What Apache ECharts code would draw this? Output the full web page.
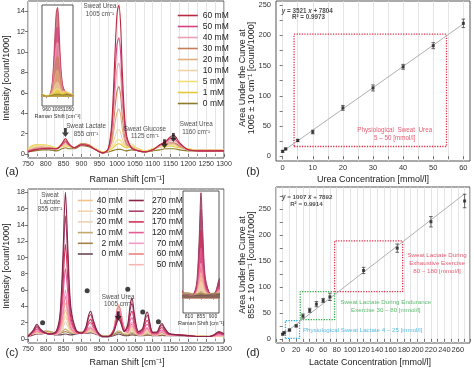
<!DOCTYPE html>
<html><head><meta charset="utf-8">
<script src="https://cdn.jsdelivr.net/npm/echarts@6/dist/echarts.min.js"></script>
<style>html,body{margin:0;padding:0;background:#fff}#c{width:474px;height:370px}</style>
</head><body><div id="c"></div>
<script>
const FONT = 'Liberation Sans';

// ---------- Panel (a): urea spectra ----------
const shiftA = [750,770,790,810,830,845,855,865,880,900,920,940,960,975,985,995,1000,1005,1010,1015,1025,1040,1060,1080,1100,1120,1135,1150,1160,1175,1200,1230,1260,1300];
const urea60 = [0.2,0.4,0.5,0.5,0.5,1.0,1.5,1.0,0.6,0.9,0.8,0.4,0.1, 0.5,3.0,10.5,13.8,14.6,12.6,7.8,2.2, 0.6,0.3,0.2,0.4,0.9,1.2,1.7,1.8,1.1,0.4,0.3,0.3,0.3];
const urea50 = [0.25,0.45,0.5,0.55,0.5,0.9,1.2,0.9,0.6,0.9,0.8,0.4,0.1, 0.45,2.4,8.3,10.8,11.4,9.8,6.1,1.8, 0.6,0.3,0.2,0.4,0.9,1.1,1.5,1.5,1.0,0.4,0.3,0.3,0.3];
const urea40 = [0.3,0.5,0.55,0.55,0.5,0.85,1.1,0.85,0.6,0.9,0.8,0.4,0.1, 0.4,1.9,6.4,8.4,8.9,7.7,4.8,1.4, 0.6,0.3,0.2,0.4,0.8,1.0,1.3,1.3,0.9,0.4,0.3,0.3,0.3];
const urea30 = [0.3,0.5,0.6,0.6,0.5,0.9,1.3,0.9,0.6,1.0,0.9,0.4,0.1, 0.4,1.5,4.8,6.2,6.6,5.7,3.6,1.1, 0.6,0.3,0.2,0.4,0.8,1.0,1.1,1.1,0.8,0.4,0.3,0.3,0.3];
const urea20 = [0.35,0.6,0.7,0.6,0.5,0.8,1.0,0.8,0.6,1.0,0.9,0.4,0.1, 0.35,1.1,3.2,4.1,4.4,3.8,2.4,0.9, 0.7,0.3,0.2,0.4,0.8,0.9,1.0,1.0,0.7,0.4,0.35,0.35,0.35];
const urea10 = [0.4,0.7,0.8,0.7,0.5,0.8,0.9,0.8,0.6,1.0,0.9,0.4,0.1, 0.3,0.7,1.8,2.3,2.4,2.1,1.4,0.8, 1.0,0.4,0.2,0.4,0.7,0.8,0.9,0.9,0.7,0.4,0.4,0.4,0.4];
const urea5  = [0.5,0.8,0.9,0.8,0.6,0.7,0.8,0.7,0.6,1.0,0.9,0.5,0.2, 0.3,0.5,1.1,1.35,1.4,1.3,1.0,0.7, 0.8,0.5,0.3,0.5,0.7,0.8,0.8,0.8,0.7,0.5,0.4,0.4,0.4];
const urea1  = [0.5,0.9,0.9,0.8,0.6,0.7,0.8,0.7,0.6,1.0,0.9,0.5,0.2, 0.3,0.5,0.8,0.95,1.0,0.95,0.8,0.6, 0.7,0.5,0.3,0.5,0.7,0.7,0.8,0.7,0.6,0.5,0.4,0.4,0.4];
const urea0  = [0.2,0.3,0.4,0.4,0.3,0.5,0.6,0.5,0.5,0.8,0.7,0.4,0.1, 0.2,0.3,0.4,0.45,0.45,0.45,0.4,0.3, 0.4,0.3,0.2,0.3,0.4,0.5,0.5,0.5,0.4,0.3,0.3,0.3,0.3];
const ureaNames = ['60 mM','50 mM','40 mM','30 mM','20 mM','10 mM','5 mM','1 mM','0 mM'];
const ureaSpectra = [urea60,urea50,urea40,urea30,urea20,urea10,urea5,urea1,urea0];
const ureaColors = ['#b8283f','#d2437f','#eb9fb2','#c67e58','#e2af7c','#efd3a6','#f2df74','#e6c936','#8c7b2c'];

// ---------- Panel (b): urea calibration ----------
const ureaConc = [0,1,5,10,20,30,40,50,60];
const ureaArea = [8,12,26,40,80,113,148,183,220];
const ureaErr  = [1.5,1.5,2,3,4,5,4,5,7];
const ureaFitX = [0,60];
const ureaFitY = [7.8,219.1];
const ureaBoxX = [3.8,54.4];
const ureaBoxY = [16,202];

// ---------- Panel (c): lactate spectra ----------
const shiftC = [750,765,775,785,800,815,830,840,848,855,862,870,885,900,912,920,926,932,945,960,975,990,1000,1005,1010,1020,1030,1037,1042,1048,1060,1072,1080,1085,1090,1100,1112,1120,1126,1132,1145,1170,1200,1230,1260,1275,1285,1300];
const lact270 = [0.3,1.1,1.8,1.2,0.7,0.6,1.0,3.1,10.1,18.0,11.0,4.0,1.1,0.7,1.4,2.9,3.4,2.5,0.9,0.3,0.3,0.8,2.1,2.4,2.0,0.9,1.8,4.3,5.0,3.2,0.9,1.3,2.9,3.3,2.4,0.8,0.85,1.6,1.9,1.45,0.7,0.5,0.4,0.3,0.3,0.6,0.9,0.65];
const lact220 = [0.3,1.0,1.6,1.1,0.7,0.6,0.9,2.7,8.6,15.1,9.3,3.4,1.0,0.7,1.3,2.6,3.0,2.2,0.8,0.3,0.3,0.9,2.3,2.7,2.2,0.9,1.6,3.7,4.3,2.8,0.8,1.2,2.5,2.9,2.1,0.8,0.8,1.4,1.7,1.3,0.65,0.5,0.4,0.3,0.3,0.55,0.8,0.6];
const lact170 = [0.3,0.9,1.4,1.0,0.7,0.6,0.8,2.2,6.6,11.6,7.1,2.7,0.9,0.7,1.1,2.1,2.4,1.8,0.8,0.3,0.3,1.0,2.6,3.0,2.5,1.0,1.3,2.9,3.4,2.2,0.7,1.0,2.0,2.3,1.7,0.7,0.7,1.2,1.4,1.1,0.6,0.5,0.4,0.3,0.3,0.5,0.7,0.5];
const lact120 = [0.3,0.85,1.2,0.9,0.7,0.6,0.75,1.7,5.0,8.6,5.4,2.1,0.85,0.7,1.0,1.8,2.0,1.5,0.7,0.3,0.3,1.0,2.9,3.4,2.8,1.1,1.0,2.3,2.6,1.7,0.6,0.8,1.6,1.8,1.4,0.6,0.6,1.0,1.1,0.9,0.55,0.5,0.4,0.3,0.3,0.45,0.6,0.45];
const lact70  = [0.3,0.75,1.0,0.8,0.7,0.6,0.65,1.3,3.5,6.0,3.8,1.6,0.75,0.7,0.9,1.4,1.5,1.2,0.6,0.3,0.3,1.1,3.3,3.8,3.1,1.2,0.9,1.8,2.0,1.4,0.55,0.7,1.25,1.4,1.1,0.55,0.55,0.8,0.9,0.75,0.5,0.5,0.4,0.3,0.3,0.4,0.5,0.4];
const lact60  = [0.3,0.7,0.95,0.75,0.7,0.6,0.65,1.2,3.1,5.2,3.3,1.4,0.7,0.7,0.85,1.25,1.35,1.1,0.6,0.3,0.3,1.1,3.5,4.0,3.3,1.3,0.8,1.6,1.8,1.3,0.5,0.65,1.15,1.3,1.0,0.5,0.5,0.75,0.85,0.7,0.5,0.5,0.4,0.3,0.3,0.4,0.45,0.4];
const lact50  = [0.3,0.7,0.9,0.75,0.7,0.6,0.6,1.1,2.6,4.4,2.8,1.3,0.7,0.7,0.8,1.1,1.2,1.0,0.6,0.3,0.3,1.1,3.6,4.1,3.4,1.3,0.75,1.4,1.6,1.1,0.5,0.6,1.05,1.15,0.9,0.5,0.5,0.7,0.8,0.65,0.45,0.5,0.4,0.3,0.3,0.35,0.4,0.35];
const lact40  = [0.4,0.7,0.8,0.75,0.8,0.7,0.6,1.0,2.2,3.6,2.3,1.1,0.7,0.8,0.8,1.0,1.1,0.9,0.6,0.3,0.3,1.2,3.7,4.2,3.5,1.4,0.7,1.2,1.4,1.0,0.5,0.6,0.9,1.0,0.85,0.5,0.5,0.65,0.75,0.6,0.45,0.5,0.4,0.35,0.3,0.35,0.35,0.3];
const lact30  = [0.4,0.65,0.75,0.7,0.8,0.7,0.6,0.9,1.8,2.8,1.9,1.0,0.7,0.8,0.8,0.95,1.0,0.85,0.6,0.3,0.3,1.1,3.5,4.0,3.3,1.3,0.65,1.05,1.2,0.9,0.5,0.55,0.8,0.9,0.75,0.5,0.5,0.6,0.7,0.6,0.45,0.5,0.4,0.35,0.3,0.3,0.35,0.3];
const lact20  = [0.4,0.6,0.7,0.7,0.8,0.7,0.6,0.8,1.4,2.1,1.5,0.9,0.7,0.8,0.8,0.9,0.95,0.8,0.6,0.3,0.3,1.0,3.2,3.7,3.0,1.2,0.6,0.95,1.05,0.8,0.5,0.5,0.7,0.8,0.7,0.5,0.5,0.55,0.65,0.55,0.45,0.5,0.4,0.35,0.3,0.3,0.3,0.3];
const lact10  = [0.5,0.8,0.9,0.9,1.0,0.9,0.7,0.8,1.0,1.2,1.0,0.8,0.8,0.9,0.9,0.95,1.0,0.9,0.7,0.4,0.4,0.6,0.9,1.0,0.9,0.6,0.6,0.8,0.85,0.7,0.5,0.5,0.6,0.65,0.6,0.5,0.5,0.55,0.6,0.55,0.5,0.5,0.45,0.4,0.35,0.35,0.35,0.3];
const lact2   = [0.4,0.7,0.8,0.8,0.9,0.8,0.6,0.7,0.8,0.9,0.8,0.7,0.7,0.8,0.8,0.85,0.9,0.8,0.6,0.3,0.3,0.5,0.75,0.8,0.75,0.5,0.5,0.6,0.65,0.6,0.45,0.45,0.5,0.55,0.5,0.45,0.45,0.5,0.5,0.5,0.45,0.45,0.4,0.35,0.3,0.3,0.3,0.3];
const lact0   = [0.3,0.5,0.6,0.6,0.7,0.6,0.5,0.5,0.55,0.6,0.55,0.5,0.6,0.7,0.7,0.7,0.75,0.7,0.5,0.25,0.25,0.4,0.55,0.6,0.55,0.4,0.4,0.45,0.5,0.45,0.4,0.4,0.45,0.45,0.45,0.4,0.4,0.4,0.45,0.4,0.4,0.4,0.35,0.3,0.3,0.3,0.3,0.3];
const lactNames = ['270 mM','220 mM','170 mM','120 mM','70 mM','60 mM','50 mM','40 mM','30 mM','20 mM','10 mM','2 mM','0 mM'];
const lactSpectra = [lact270,lact220,lact170,lact120,lact70,lact60,lact50,lact40,lact30,lact20,lact10,lact2,lact0];
const lactColors = ['#8a2446','#a8446e','#d2305a','#e65c98','#f39ac4','#f07f80','#f6b6b4','#f2c48c','#f5d6aa','#e8d2b8','#c2a86c','#a3814c','#6c4652'];

// ---------- Panel (d): lactate calibration ----------
const lactConc = [0,2,10,20,30,40,50,60,70,120,170,220,270];
const lactArea = [9,12,17,25,44,55,67,74,81,132,175,226,266];
const lactErr  = [1.5,1.5,2,2,4,4,5,4,7,6,8,10,13];
const lactFitX = [0,270];
const lactFitY = [7.9,279.8];
const boxPhysX = [4,25],    boxPhysY = [1,35];
const boxEndX  = [26,77],   boxEndY  = [37,91];
const boxExhX  = [77,178],  boxExhY  = [91,189];

// ---------- tick labels ----------
const ticksAY = [0,2,4,6,8,10,12,14];
const ticksBX = [0,10,20,30,40,50,60];
const ticksBXt = [0,5,10,15,20,25,30,35,40,45,50,55,60];
const ticksBY = [0,50,100,150,200,250];
const ticksBYt = [0,25,50,75,100,125,150,175,200,225,250];
const ticksCY = [0,2,4,6,8,10,12,14,16,18];
const ticksDY = [0,50,100,150,200,250];
const ticksDYt = [0,25,50,75,100,125,150,175,200,225,250,275];
const insetTicksA = [960,1005,1050];
const insetTicksC = [810,855,900];

// ---------- annotations ----------
const annA = [
  {x:952, y:14.1, t:'Sweat Urea\n1005 cm⁻¹'},
  {x:913, y:2.3, t:'Sweat Lactate\n855 cm⁻¹'},
  {x:1078, y:2.1, t:'Sweat Glucose\n1125 cm⁻¹'},
  {x:1222, y:2.5, t:'Sweat Urea\n1160 cm⁻¹'}
];
const arrowsA = [[855,2.1],[1133,1.0],[1158,1.6]];
const annC = [
  {x:812, y:16.8, t:'Sweat\nLactate\n855 cm⁻¹'},
  {x:1003, y:4.7, t:'Sweat Urea\n1005 cm⁻¹'}
];
const arrowsC = [[1003,2.8]];
const dotsC = [[791,2.0],[916,5.9],[1030,6.1],[1072,3.3],[1116,2.1]];
const annB = [
  {x:-0.3, y:240.5, t:'{i|y} = 3521 {i|x} + 7804', a:'left', b:true},
  {x:3.1, y:229.5, t:'R² = 0.9973', a:'left', b:true},
  {x:37.2, y:37, t:'Physiological  Sweat  Urea\n5 – 50 [mmol/l]', c:'#e2324e'}
];
const annD = [
  {x:-1, y:274, t:'{i|y} = 1007 {i|x} + 7892', a:'left', b:true},
  {x:11, y:259.5, t:'R² = 0.9914', a:'left', b:true},
  {x:30, y:16, t:'Physiological Sweat Lactate 4 – 25 [mmol/l]', a:'left', c:'#2aa9e2'},
  {x:153, y:62.6, t:'Sweat Lactate During Endurance\nExercise 30 – 80 [mmol/l]', c:'#34ad4c'},
  {x:229, y:145, t:'Sweat Lactate During\nExhaustive Exercise\n80 – 180 [mmol/l]', c:'#e2324e'}
];

// ---------- build ----------
const zip = (xs, ys) => xs.map((x, i) => [x, ys[i]]);
const boxPts = (bx, by) => [[bx[0],by[0]],[bx[1],by[0]],[bx[1],by[1]],[bx[0],by[1]],[bx[0],by[0]]];
const TXT = '#222';
const RICH = {i:{fontStyle:'italic', fontWeight:'bold', fontSize:6.3, fontFamily:FONT, color:TXT}};

function textLayer(xi, items, size, lh) {
  return {type:'scatter', xAxisIndex:xi, yAxisIndex:xi, symbolSize:1, silent:true, z:12,
    itemStyle:{color:'rgba(0,0,0,0)'},
    data: items.map(o => ({value:[o.x, o.y], label:{show:true, position:'inside', formatter:o.t,
      align:o.a || 'center', verticalAlign:'middle', color:o.c || TXT, fontSize:size, lineHeight:lh,
      fontFamily:FONT, fontWeight:o.b ? 'bold' : 'normal', rich:RICH}}))};
}
function errRender(params, api) {
  const x = api.value(0), y = api.value(1), e = api.value(2);
  const t = api.coord([x, y + e]), b = api.coord([x, y - e]);
  const w = 1.8, st = {stroke:'#444', lineWidth:0.8};
  return {type:'group', children:[
    {type:'line', shape:{x1:t[0], y1:t[1], x2:b[0], y2:b[1]}, style:st},
    {type:'line', shape:{x1:t[0]-w, y1:t[1], x2:t[0]+w, y2:t[1]}, style:st},
    {type:'line', shape:{x1:b[0]-w, y1:b[1], x2:b[0]+w, y2:b[1]}, style:st}]};
}
const ARROW = 'path://M3,0L7,0L7,5L10,5L5,10L0,5L3,5Z';

const series = [];
for (let i = ureaNames.length - 1; i >= 0; i--) {
  series.push({type:'line', name:ureaNames[i], xAxisIndex:0, yAxisIndex:0, data:zip(shiftA, ureaSpectra[i]),
    symbol:'none', smooth:0.3, z:2, lineStyle:{width:1.1, color:ureaColors[i]}, itemStyle:{color:ureaColors[i]}});
}
for (let i = 0; i < ureaNames.length; i++) {
  series.push({type:'line', name:'ia' + i, xAxisIndex:4, yAxisIndex:4, data:zip(shiftA, ureaSpectra[i]),
    symbol:'none', smooth:0.3, z:7, lineStyle:{width:0.8, color:ureaColors[i]}, itemStyle:{color:ureaColors[i]},
    areaStyle:{color:ureaColors[i], opacity:0.6}});
}
series.push(textLayer(0, annA, 6.3, 7.5));
series.push({type:'scatter', xAxisIndex:0, yAxisIndex:0, symbol:ARROW, symbolSize:[7,9], itemStyle:{color:'#111'}, data:arrowsA, z:11, silent:true});

for (let i = lactNames.length - 1; i >= 0; i--) {
  series.push({type:'line', name:lactNames[i] + ' ', xAxisIndex:2, yAxisIndex:2, data:zip(shiftC, lactSpectra[i]),
    symbol:'none', smooth:0.3, z:2, lineStyle:{width:1.1, color:lactColors[i]}, itemStyle:{color:lactColors[i]}});
}
for (let i = 0; i < lactNames.length; i++) {
  series.push({type:'line', name:'ic' + i, xAxisIndex:5, yAxisIndex:5, data:zip(shiftC, lactSpectra[i]),
    symbol:'none', smooth:0.3, z:7, lineStyle:{width:0.8, color:lactColors[i]}, itemStyle:{color:lactColors[i]},
    areaStyle:{color:lactColors[i], opacity:0.6}});
}
series.push(textLayer(2, annC, 6.3, 6.8));
series.push({type:'scatter', xAxisIndex:2, yAxisIndex:2, symbol:ARROW, symbolSize:[7,9], itemStyle:{color:'#111'}, data:arrowsC, z:11, silent:true});
series.push({type:'scatter', xAxisIndex:2, yAxisIndex:2, symbol:'circle', symbolSize:5, itemStyle:{color:'#111'}, data:dotsC, z:11, silent:true});

series.push({type:'line', xAxisIndex:1, yAxisIndex:1, data:boxPts(ureaBoxX, ureaBoxY), symbol:'none', z:3,
  lineStyle:{color:'#e2324e', width:1.3, type:'dotted'}});
series.push({type:'line', xAxisIndex:1, yAxisIndex:1, data:zip(ureaFitX, ureaFitY), symbol:'none', z:3,
  lineStyle:{color:'#b0b0b0', width:1}});
series.push({type:'custom', xAxisIndex:1, yAxisIndex:1, renderItem:errRender, z:4,
  data:ureaConc.map((x, i) => [x, ureaArea[i], ureaErr[i]]), encode:{x:0, y:1}});
series.push({type:'scatter', xAxisIndex:1, yAxisIndex:1, symbol:'rect', symbolSize:3, itemStyle:{color:'#222'}, z:5,
  data:zip(ureaConc, ureaArea)});
series.push(textLayer(1, annB, 6.3, 8));

[[boxPhysX, boxPhysY, '#2aa9e2'], [boxEndX, boxEndY, '#34ad4c'], [boxExhX, boxExhY, '#e2324e']].forEach(b => {
  series.push({type:'line', xAxisIndex:3, yAxisIndex:3, data:boxPts(b[0], b[1]), symbol:'none', z:3,
    lineStyle:{color:b[2], width:1.3, type:'dotted'}});
});
series.push({type:'line', xAxisIndex:3, yAxisIndex:3, data:zip(lactFitX, lactFitY), symbol:'none', z:3,
  lineStyle:{color:'#b0b0b0', width:1}});
series.push({type:'custom', xAxisIndex:3, yAxisIndex:3, renderItem:errRender, z:4,
  data:lactConc.map((x, i) => [x, lactArea[i], lactErr[i]]), encode:{x:0, y:1}});
series.push({type:'scatter', xAxisIndex:3, yAxisIndex:3, symbol:'rect', symbolSize:3, itemStyle:{color:'#222'}, z:5,
  data:zip(lactConc, lactArea)});
series.push(textLayer(3, annD, 6.2, 8));

// ---------- axes ----------
const LBL = {fontSize:7.5, color:'#333', fontFamily:FONT};
const LBLX = {fontSize:7, color:'#333', fontFamily:FONT, formatter:v => String(v)};
const GRIDLINE = {show:true, lineStyle:{color:'#dedede', width:0.8}};
const TICK = {show:true, length:3, lineStyle:{color:'#555', width:0.8}};
function gridBox(l, t, w, h, z) {
  return {left:l, top:t, width:w, height:h, show:true, backgroundColor:'#fff', borderColor:'#555', borderWidth:1, z:z || 0, outerBoundsMode:'none'};
}
const xAxes = [
  {gridIndex:0, type:'value', min:750, max:1300, interval:50, axisLine:{show:false}, axisTick:TICK,
    minorTick:{show:true, splitNumber:2, length:2, lineStyle:{color:'#555', width:0.6}},
    axisLabel:Object.assign({margin:3, hideOverlap:false}, LBLX), splitLine:GRIDLINE, minorSplitLine:GRIDLINE},
  {gridIndex:1, type:'value', min:-2.2, max:62.2, axisLine:{show:false},
    axisTick:Object.assign({customValues:ticksBXt}, TICK),
    axisLabel:Object.assign({margin:3, customValues:ticksBX}, LBL), splitLine:GRIDLINE},
  {gridIndex:2, type:'value', min:750, max:1300, interval:50, axisLine:{show:false}, axisTick:TICK,
    minorTick:{show:true, splitNumber:2, length:2, lineStyle:{color:'#555', width:0.6}},
    axisLabel:Object.assign({margin:3, hideOverlap:false}, LBLX), splitLine:GRIDLINE, minorSplitLine:GRIDLINE},
  {gridIndex:3, type:'value', min:-10, max:278, interval:10, axisLine:{show:false}, axisTick:TICK,
    axisLabel:Object.assign({margin:3}, LBL, {formatter:v => (v >= 0 && v <= 260 && v % 20 === 0) ? String(v) : ''}),
    splitLine:GRIDLINE},
  {gridIndex:4, type:'value', min:941.5, max:1068.5, axisLine:{show:false},
    axisTick:{show:true, customValues:insetTicksA, length:1.5, lineStyle:{color:'#555', width:0.6}},
    axisLabel:{customValues:insetTicksA, fontSize:5, margin:1.5, color:'#333', fontFamily:FONT, formatter:v => String(v), hideOverlap:false},
    splitLine:{show:false},
    name:'Raman Shift [cm⁻¹]', nameLocation:'middle', nameGap:7.5, nameTextStyle:{fontSize:5.5, color:'#333', fontFamily:FONT}, z:6},
  {gridIndex:5, type:'value', min:787.5, max:922.5, axisLine:{show:false},
    axisTick:{show:true, customValues:insetTicksC, length:1.5, lineStyle:{color:'#555', width:0.6}},
    axisLabel:{customValues:insetTicksC, fontSize:5, margin:1.5, color:'#333', fontFamily:FONT}, splitLine:{show:false},
    name:'Raman Shift [cm⁻¹]', nameLocation:'middle', nameGap:7, nameTextStyle:{fontSize:5.5, color:'#333', fontFamily:FONT}, z:6}
];
const yAxes = [
  {gridIndex:0, type:'value', min:-0.4, max:15, axisLine:{show:false},
    axisTick:Object.assign({customValues:ticksAY}, TICK), axisLabel:Object.assign({margin:3, customValues:ticksAY}, LBL), splitLine:{show:false}},
  {gridIndex:1, type:'value', min:-8, max:257, axisLine:{show:false},
    axisTick:Object.assign({customValues:ticksBYt}, TICK), axisLabel:Object.assign({margin:5, customValues:ticksBY}, LBL), splitLine:{show:false}},
  {gridIndex:2, type:'value', min:-0.5, max:18.4, axisLine:{show:false},
    axisTick:Object.assign({customValues:ticksCY}, TICK), axisLabel:Object.assign({margin:3, customValues:ticksCY}, LBL), splitLine:{show:false}},
  {gridIndex:3, type:'value', min:-8, max:293, axisLine:{show:false},
    axisTick:Object.assign({customValues:ticksDYt}, TICK), axisLabel:Object.assign({margin:5, customValues:ticksDY}, LBL), splitLine:{show:false}},
  {gridIndex:4, type:'value', min:-1.5, max:15, show:true, axisLine:{show:false}, axisTick:{show:false}, axisLabel:{show:false}, splitLine:{show:false}},
  {gridIndex:5, type:'value', min:-2.5, max:18.3, show:true, axisLine:{show:false}, axisTick:{show:false}, axisLabel:{show:false}, splitLine:{show:false}}
];

const legendText = {fontSize:8.5, color:TXT, fontFamily:FONT};
const NOSYM = {opacity:0};
const legends = [
  {data:ureaNames, orient:'vertical', left:172, top:6, itemWidth:20, itemHeight:8, itemGap:2, selectedMode:false,
    itemStyle:NOSYM, lineStyle:{width:1.6}, textStyle:legendText},
  {data:lactNames.slice(7).map(n => n + ' '), orient:'vertical', left:72, top:191, itemWidth:15, itemHeight:8, itemGap:1.7, selectedMode:false,
    itemStyle:NOSYM, lineStyle:{width:1.6},
    formatter:n => '{r|' + n.trim() + '}', textStyle:Object.assign({rich:{r:{width:25, align:'right', fontSize:8.5, fontFamily:FONT, color:TXT}}}, legendText)},
  {data:lactNames.slice(0, 7).map(n => n + ' '), orient:'vertical', left:123, top:191, itemWidth:15, itemHeight:8, itemGap:1.7, selectedMode:false,
    itemStyle:NOSYM, lineStyle:{width:1.6},
    formatter:n => '{r|' + n.trim() + '}', textStyle:Object.assign({rich:{r:{width:34, align:'right', fontSize:8.5, fontFamily:FONT, color:TXT}}}, legendText)}
];

function gtext(x, y, text, size, rot) {
  return {type:'text', x:x, y:y, rotation:rot || 0, silent:true, z:20,
    style:{text:text, fontSize:size, fontFamily:FONT, fill:TXT, align:'center', verticalAlign:'middle'}};
}
const HALF = Math.PI / 2;
const graphics = [
  gtext(127, 180, 'Raman Shift [cm⁻¹]', 9),
  gtext(373, 180, 'Urea Concentration [mmol/l]', 9),
  gtext(127, 363, 'Raman Shift [cm⁻¹]', 9),
  gtext(370, 363, 'Lactate Concentration [mmol/l]', 9),
  gtext(7, 78, 'Intensity [count/1000]', 9, HALF),
  gtext(7, 266, 'Intensity [count/1000]', 9, HALF),
  gtext(243, 78, 'Area Under the Curve at', 9, HALF),
  gtext(252, 78, '1005 ± 10 cm⁻¹ [count/1000]', 9, HALF),
  gtext(243, 265, 'Area Under the Curve at', 9, HALF),
  gtext(252, 265, '855 ± 10 cm⁻¹ [count/1000]', 9, HALF),
  gtext(12, 172, '(a)', 11),
  gtext(253, 172, '(b)', 11),
  gtext(12, 353, '(c)', 11),
  gtext(253, 353, '(d)', 11)
];

const chart = echarts.init(document.getElementById('c'), null, {renderer:'canvas'});
chart.setOption({
  animation:false,
  backgroundColor:'#fff',
  textStyle:{fontFamily:FONT},
  grid:[gridBox(28,1,196,157), gridBox(276,1,194,160), gridBox(28,189,196,154), gridBox(276,187,194,156),
        gridBox(42,5,31,101,5), gridBox(183,191,36,122,5)],
  xAxis:xAxes, yAxis:yAxes, legend:legends, series:series, graphic:graphics
});
</script>
</body></html>
